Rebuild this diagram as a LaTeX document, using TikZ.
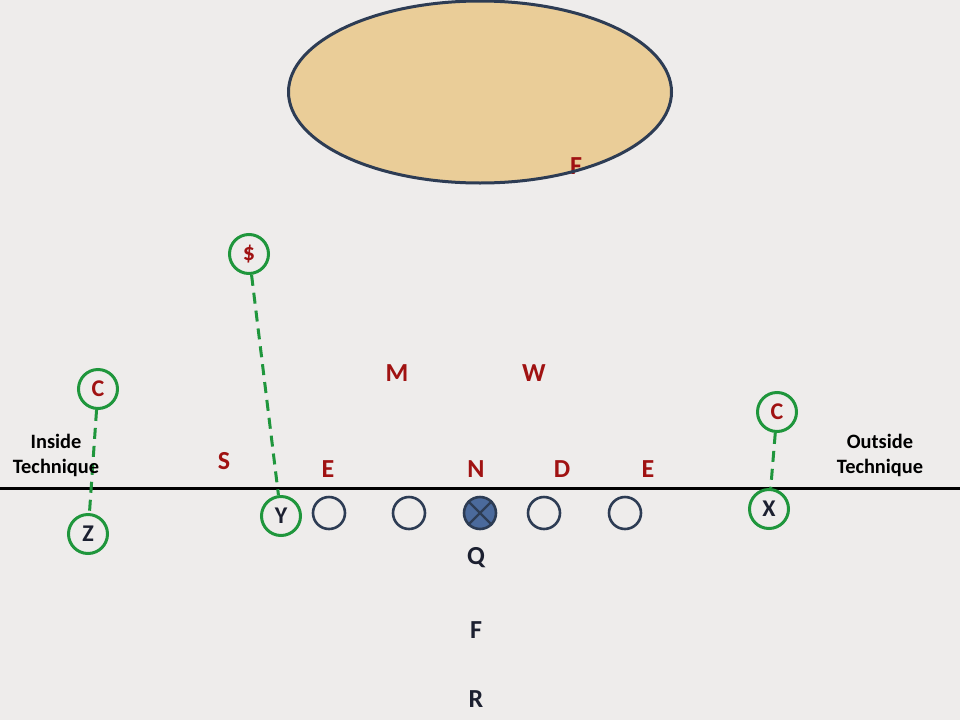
\documentclass[tikz,border=0pt]{standalone}
\usepackage{fontspec}
\setmainfont{Carlito}
\usetikzlibrary{shapes.geometric}
\definecolor{bg}{HTML}{EEECEB}
\definecolor{tan}{HTML}{EACD98}
\definecolor{navy}{HTML}{2D3C54}
\definecolor{dred}{HTML}{A01212}
\definecolor{grn}{HTML}{1F963C}
\definecolor{olfill}{HTML}{4B6A9C}
\definecolor{ink}{HTML}{1C2030}
\tikzset{
  defl/.style={text=dred,font=\bfseries\fontsize{26}{30}\selectfont,inner sep=0pt},
  offl/.style={text=ink,font=\bfseries\fontsize{26}{30}\selectfont,inner sep=0pt},
  skill/.style={circle,draw=grn,line width=3pt,minimum size=39pt,inner sep=0pt,font=\bfseries\fontsize{24}{28}\selectfont},
  lineman/.style={circle,draw=navy,line width=2.6pt,minimum size=32pt,inner sep=0pt},
  route/.style={draw=grn,line width=3pt,dash pattern=on 11pt off 7pt},
  tech/.style={text=black,font=\bfseries\fontsize{20.4}{25}\selectfont,align=center,inner sep=0pt}
}
\begin{document}
\begin{tikzpicture}[x=1pt,y=-1pt]
\useasboundingbox[fill=bg] (0,0) rectangle (960,720);
% deep zone
\node[ellipse,fill=tan,minimum width=383pt,minimum height=182pt,inner sep=0pt] (zone) at (480,92) {};
\node[defl] (FS) at (576,166) {F};
\draw[navy,line width=3pt] (480,92) ellipse [x radius=191.5, y radius=91];
% line of scrimmage
\coordinate (losL) at (0,488);
\coordinate (losR) at (960,488);
\draw[black,line width=3pt] (losL) -- (losR);
% offensive line
\node[lineman] (LT) at (329,513) {};
\node[lineman] (LG) at (409,513) {};
\node[lineman,fill=olfill] (Ctr) at (480,513) {};
\draw[navy,line width=2.2pt] (Ctr.north west) -- (Ctr.south east) (Ctr.north east) -- (Ctr.south west);
\node[lineman] (RG) at (544,513) {};
\node[lineman] (RT) at (625,513) {};
% skill players
\node[skill,text=dred] (dollar) at (249,254) {\$};
\node[skill,text=dred] (CL) at (98,389) {C};
\node[skill,text=ink] (Z) at (88,534) {Z};
\node[skill,text=ink] (Y) at (281,516) {Y};
\node[skill,text=dred] (CR) at (777,412) {C};
\node[skill,text=ink] (X) at (769,509) {X};
\draw[route] (dollar) -- (Y);
\draw[route] (CL) -- (Z);
\draw[route] (CR) -- (X);
% defense
\node[defl] (S) at (224,461) {S};
\node[defl] (M) at (397,373) {M};
\node[defl] (W) at (534,373) {W};
\node[defl] (E1) at (328,469) {E};
\node[defl] (N) at (476,469) {N};
\node[defl] (D) at (562,469) {D};
\node[defl] (E2) at (648,469) {E};
% backfield
\node[offl] (Q) at (476,558) {Q};
\node[offl] (F) at (476,630) {F};
\node[offl] (R) at (476,699) {R};
% technique labels
\node[tech] (inside) at (56,455) {Inside\\Technique};
\node[tech] (outside) at (880,455) {Outside\\Technique};
\end{tikzpicture}
\end{document}
